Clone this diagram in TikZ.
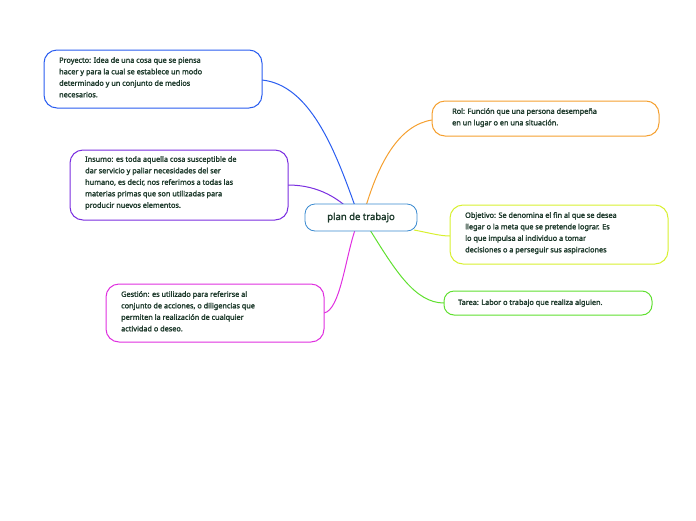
\documentclass[tikz,border=0pt]{standalone}
\usepackage{fontspec}
\setmainfont{Noto Sans}[BoldFont={Noto Sans},BoldFeatures={FakeBold=2}]
\begin{document}
\begin{tikzpicture}[x=1pt,y=-1pt,
  box/.style={line width=1pt,rounded corners=13pt,fill=white},
  txt/.style={font=\fontsize{7.3}{11.5}\selectfont\bfseries,text=tc,align=left,anchor=north west,inner sep=0},
  con/.style={line width=1pt}]
\definecolor{tc}{HTML}{1E3A2C}
\definecolor{colB}{HTML}{2A5DF0}\definecolor{colP}{HTML}{7A2EE0}\definecolor{colM}{HTML}{E030E0}
\definecolor{colO}{HTML}{F5A030}\definecolor{colY}{HTML}{D8F030}\definecolor{colG}{HTML}{60E030}
\definecolor{colC}{HTML}{3A8AD0}
\useasboundingbox (0,0) rectangle (696,520);
% connectors
\coordinate (c1) at (355,206);\coordinate (c2) at (352,212);\coordinate (c3) at (355,230);
\coordinate (c4) at (366,206);\coordinate (c5) at (414,230);\coordinate (c6) at (370,230);
\draw[con,colB] (262,80) .. controls (310,85) and (335,150) .. (c1);
\draw[con,colP] (288,185) .. controls (320,185) and (340,200) .. (c2);
\draw[con,colM] (324,313) .. controls (340,310) and (345,260) .. (c3);
\draw[con,colO] (432,120) .. controls (400,125) and (380,160) .. (c4);
\draw[con,colY] (c5) .. controls (430,233) and (440,236) .. (450,236);
\draw[con,colG] (c6) .. controls (395,270) and (415,303) .. (444,303);
% boxes
\draw[box,draw=colB] (44,50) rectangle (262,108);
\node[txt] (p) at (59,57) {Proyecto: Idea de una cosa que se piensa\\hacer y para la cual se establece un modo\\determinado y un conjunto de medios\\necesarios.};
\draw[box,draw=colP] (70,150) rectangle (288,220);
\node[txt] (i) at (85,156) {Insumo: es toda aquella cosa susceptible de\\dar servicio y paliar necesidades del ser\\humano, es decir, nos referimos a todas las\\materias primas que son utilizadas para\\producir nuevos elementos.};
\draw[box,draw=colM] (106,284) rectangle (324,342);
\node[txt] (g) at (121,291) {Gestión: es utilizado para referirse al\\conjunto de acciones, o diligencias que\\permiten la realización de cualquier\\actividad o deseo.};
\draw[box,draw=colO] (432,101) rectangle (659,136);
\node[txt] (r) at (452,108) {Rol: Función que una persona desempeña\\en un lugar o en una situación.};
\draw[box,draw=colY] (450,205) rectangle (668,264);
\node[txt] (o) at (465,212) {Objetivo: Se denomina el fin al que se desea\\llegar o la meta que se pretende lograr. Es\\lo que impulsa al individuo a tomar\\decisiones o a perseguir sus aspiraciones};
\draw[box,draw=colG,rounded corners=10pt] (444,291) rectangle (652,315);
\node[txt,anchor=west] (t) at (458,303) {Tarea: Labor o trabajo que realiza alguien.};
\draw[box,draw=colC,line width=0.8pt,rounded corners=10pt] (305,204) rectangle (417,231);
\node[font=\fontsize{9.5}{11}\selectfont\bfseries,text=tc] (c) at (361,217.5) {plan de trabajo};
\end{tikzpicture}
\end{document}
